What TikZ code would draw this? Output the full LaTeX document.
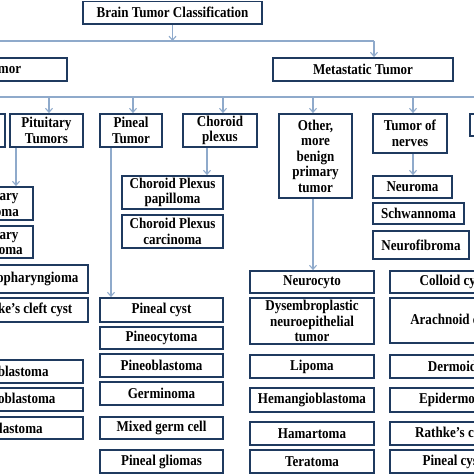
\documentclass[tikz,border=0pt]{standalone}
\usepackage{fontspec}
\setmainfont{Liberation Serif}[FakeStretch=0.87]
\usetikzlibrary{arrows.meta}
\definecolor{boxnavy}{HTML}{1F3A5F}
\definecolor{linkblue}{HTML}{8FAACB}
\tikzset{
  tbox/.style={draw=boxnavy, line width=1.8pt, fill=white, align=center, inner sep=0pt,
    font=\fontsize{15}{15.5}\selectfont\bfseries},
  link/.style={draw=linkblue, line width=1.1pt},
  linkarr/.style={link, -{Straight Barb[length=4pt,width=7pt]}}
}
% box from its corners: name, left, top, right, bottom, text
\newcommand{\tbx}[6]{%
  \node[tbox, minimum width={(#4)-(#2)}, minimum height={(#5)-(#3)}]
    (#1) at ({((#2)+(#4))/2},{((#3)+(#5))/2}) {#6};}
\begin{document}
\begin{tikzpicture}[x=1pt, y=-1pt]
  \useasboundingbox (0,0) rectangle (474,474);
  \clip (0,0) rectangle (474,474);

  % top levels
  \tbx{title}{83}{1.5}{262}{24}{Brain Tumor Classification}
  \tbx{primary}{-113}{58}{67}{81}{Primary Tumor}
  \tbx{metastatic}{273}{58}{453}{81}{Metastatic Tumor}

  % second row
  \tbx{grpleft}{-65}{114}{5}{147}{}
  \tbx{pituitary}{10}{114}{83}{147}{Pituitary\\Tumors}
  \tbx{pineal}{100}{114}{162}{147}{Pineal\\Tumor}
  \tbx{choroid}{183}{114}{257}{147}{Choroid\\plexus}
  \tbx{benign}{279}{114}{352}{198}{Other,\\more\\benign\\primary\\tumor}
  \tbx{nerves}{373}{114}{447}{153}{Tumor of\\nerves}
  \tbx{grpright}{470}{114}{540}{136}{}

  % pituitary
  \tbx{pitadeno}{-46}{187}{33}{220}{Pituitary\\adenoma}
  \tbx{pitcarc}{-46}{226}{33}{258}{Pituitary\\carcinoma}
  \tbx{cranio}{-45}{265}{88}{293}{Craniopharyngioma}
  \tbx{rathkeL}{-45}{298}{88}{322}{Rathke’s cleft cyst}

  \tbx{medullo}{-83}{360}{83}{383}{Medulloblastoma}
  \tbx{ependymo}{-83}{388}{83}{411}{Ependymoblastoma}
  \tbx{neuroblast}{-83}{417}{83}{439}{Neuroblastoma}

  % choroid plexus
  \tbx{cppap}{122}{176}{223}{209}{Choroid Plexus\\papilloma}
  \tbx{cpcarc}{122}{215}{223}{248}{Choroid Plexus\\carcinoma}

  % pineal column
  \foreach \n/\t/\b/\txt in {pinealcyst/298/322/Pineal cyst, pineocyt/327/349/Pineocytoma,
      pineoblast/354/377/Pineoblastoma, germinoma/382/405/Germinoma,
      mixgerm/417/439/Mixed germ cell, pinglioma/450/473/Pineal gliomas}
    {\tbx{\n}{100}{\t}{223}{\b}{\txt}}

  % benign column
  \foreach \n/\t/\b/\txt in {neurocyto/271/293/Neurocyto,
      dnet/298/344/{Dysembroplastic\\neuroepithelial\\tumor},
      lipoma/355/378/Lipoma, hemangio/388/412/Hemangioblastoma,
      hamartoma/422/445/Hamartoma, teratoma/450/473/Teratoma}
    {\tbx{\n}{250}{\t}{374}{\b}{\txt}}

  % nerves
  \tbx{neuroma}{373}{176}{452}{198}{Neuroma}
  \tbx{schwann}{373}{203}{464}{224}{Schwannoma}
  \tbx{neurofib}{373}{231}{469}{259}{Neurofibroma}

  % cysts
  \foreach \n/\t/\b/\txt in {colloid/271/293/Colloid cyst, arachnoid/298/343/Arachnoid cyst,
      dermoid/355/378/Dermoid, epidermoid/388/412/Epidermoid,
      rathkeR/422/445/Rathke’s cyst, pinealcystR/450/473/Pineal cyst}
    {\tbx{\n}{390}{\t}{515}{\b}{\txt}}

  % connectors
  \coordinate (b1l) at (-12,41);
  \coordinate (b1r) at (374,41);
  \coordinate (b2l) at (-40,97);
  \coordinate (b2r) at (520,97);
  \draw[linkarr] (title.south) -- (title.south |- b1r);
  \draw[link] (b1l) -- (b1r);
  \draw[linkarr] (b1l) -- (b1l |- primary.north);
  \draw[linkarr] (b1r) -- (b1r |- metastatic.north);
  \draw[link] (primary.south) -- (primary.south |- b2l);
  \draw[link] (b2l) -- (b2r);
  \foreach \n/\x in {grpleft/-30, pituitary/49, pineal/133, choroid/223, benign/313, nerves/413, grpright/505}{
    \coordinate (drop) at (\x,97);
    \draw[linkarr] (drop) -- (drop |- \n.north);
  }
  \foreach \n/\dx/\m in {pituitary/-30.5/pitadeno, pineal/-20/pinealcyst, choroid/-13/cppap,
      benign/-2.5/neurocyto, nerves/3/neuroma}{
    \coordinate (out) at ([xshift=\dx pt]\n.south);
    \draw[linkarr] (out) -- (out |- \m.north);
  }
\end{tikzpicture}
\end{document}
